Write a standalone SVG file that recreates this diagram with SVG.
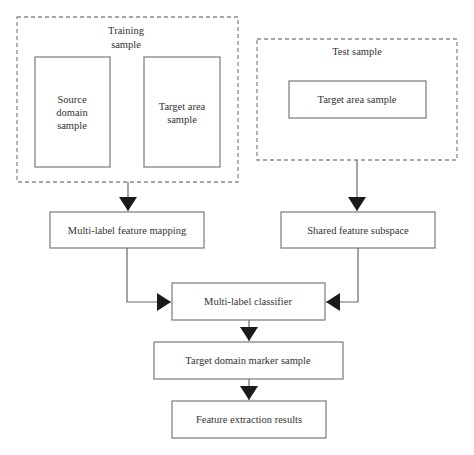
<svg xmlns="http://www.w3.org/2000/svg" width="474" height="455" viewBox="0 0 474 455">
<defs>
<style>
.box{fill:#fff;stroke:#7a7a7a;stroke-width:1.2}
.dash{fill:none;stroke:#8a8a8a;stroke-width:1.3;stroke-dasharray:4,3}
.t{font-family:"Liberation Serif","Times New Roman",serif;font-size:10.5px;fill:#333;text-anchor:middle}
.c{fill:none;stroke:#6a6a6a;stroke-width:1.2}
</style>
<marker id="ah" markerUnits="userSpaceOnUse" markerWidth="14" markerHeight="18" viewBox="0 0 14 18" refX="14" refY="9" orient="auto">
<path d="M0,0 L14,9 L0,18 Z" fill="#1a1a1a"/>
</marker>
</defs>
<rect width="474" height="455" fill="#fff"/>
<g id="training">
<rect class="dash" x="17" y="17" width="221" height="165"/>
<text class="t" x="126" y="34">Training</text>
<text class="t" x="126" y="48">sample</text>
</g>
<g id="source">
<rect class="box" x="35" y="57" width="75" height="110"/>
<text class="t" x="72" y="103">Source</text>
<text class="t" x="72" y="116">domain</text>
<text class="t" x="72" y="129">sample</text>
</g>
<g id="targetarea1">
<rect class="box" x="144" y="57" width="76" height="110"/>
<text class="t" x="182" y="110">Target area</text>
<text class="t" x="182" y="123">sample</text>
</g>
<g id="test">
<rect class="dash" x="257" y="39" width="200" height="121"/>
<text class="t" x="357" y="55">Test sample</text>
</g>
<g id="targetarea2">
<rect class="box" x="289" y="81" width="137" height="37"/>
<text class="t" x="357" y="103">Target area sample</text>
</g>
<g id="mapping">
<rect class="box" x="50" y="212" width="154" height="36"/>
<text class="t" x="127" y="234">Multi-label feature mapping</text>
</g>
<g id="subspace">
<rect class="box" x="281" y="212" width="154" height="36"/>
<text class="t" x="358" y="234">Shared feature subspace</text>
</g>
<g id="classifier">
<rect class="box" x="172" y="283" width="153" height="37"/>
<text class="t" x="248" y="305">Multi-label classifier</text>
</g>
<g id="marker">
<rect class="box" x="154" y="342" width="189" height="37"/>
<text class="t" x="248" y="364">Target domain marker sample</text>
</g>
<g id="results">
<rect class="box" x="172" y="401" width="154" height="37"/>
<text class="t" x="249" y="423">Feature extraction results</text>
</g>
<g id="connectors">
<path class="c" d="M128,182 V211" marker-end="url(#ah)"/>
<path class="c" d="M357,160 V211" marker-end="url(#ah)"/>
<path class="c" d="M127,248 V302 H171" marker-end="url(#ah)"/>
<path class="c" d="M358,248 V302 H326" marker-end="url(#ah)"/>
<path class="c" d="M249,320 V341" marker-end="url(#ah)"/>
<path class="c" d="M249,379 V400" marker-end="url(#ah)"/>
</g>
</svg>
